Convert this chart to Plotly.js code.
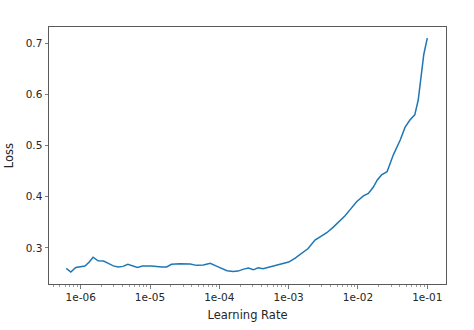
<!DOCTYPE html>
<html>
<head>
<meta charset="utf-8">
<script src="https://cdn.plot.ly/plotly-3.0.1.min.js"></script>
<style>html,body{margin:0;padding:0;background:#fff;}#chart{width:474px;height:330px;}</style>
</head>
<body>
<div id="chart"></div>
<script>
const learningRates = [6.2e-7, 7.2e-7, 8.5e-7, 9.8e-7, 1.15e-6, 1.32e-6, 1.51e-6, 1.78e-6, 2.14e-6, 2.51e-6,
  2.95e-6, 3.47e-6, 4.07e-6, 4.79e-6, 5.5e-6, 6.6e-6, 7.8e-6, 1.05e-5, 1.48e-5, 1.74e-5,
  2.04e-5, 2.69e-5, 3.8e-5, 4.68e-5, 5.9e-5, 7.4e-5, 9.1e-5, 1.07e-4, 1.29e-4, 1.58e-4,
  1.86e-4, 2.24e-4, 2.63e-4, 3.09e-4, 3.63e-4, 4.27e-4, 5.4e-4, 6.8e-4, 8.3e-4, 1.0e-3,
  1.23e-3, 1.55e-3, 1.91e-3, 2.4e-3, 2.82e-3, 3.55e-3, 4.37e-3, 5.5e-3, 6.46e-3, 7.76e-3,
  9.55e-3, 1.2e-2, 1.41e-2, 1.66e-2, 1.9e-2, 2.19e-2, 2.63e-2, 3.0e-2, 3.24e-2, 4.07e-2,
  4.79e-2, 5.62e-2, 6.6e-2, 7.4e-2, 8.3e-2, 8.9e-2, 0.1];
const losses = [0.260, 0.253, 0.262, 0.263, 0.2646, 0.272, 0.282, 0.275, 0.2744, 0.2699,
  0.265, 0.263, 0.264, 0.268, 0.266, 0.262, 0.2646, 0.2646, 0.263, 0.263,
  0.268, 0.269, 0.2685, 0.266, 0.2666, 0.270, 0.2646, 0.260, 0.2555, 0.254,
  0.2548, 0.2587, 0.2606, 0.2573, 0.2612, 0.2593, 0.263, 0.2665, 0.2685, 0.2724,
  0.2797, 0.2894, 0.299, 0.3155, 0.322, 0.3297, 0.3403, 0.3532, 0.3624, 0.3754,
  0.3904, 0.4016, 0.4067, 0.4186, 0.4329, 0.4427, 0.4491, 0.470, 0.482, 0.511,
  0.536, 0.550, 0.560, 0.589, 0.642, 0.678, 0.710];
const xTickVals = [1e-6, 1e-5, 1e-4, 1e-3, 1e-2, 1e-1];
const xTickText = ["1e-06", "1e-05", "1e-04", "1e-03", "1e-02", "1e-01"];
const yTickVals = [0.3, 0.4, 0.5, 0.6, 0.7];
const yTickText = ["0.3", "0.4", "0.5", "0.6", "0.7"];

const minorVals = [];
for (let e = -7; e <= 0; e++) {
  for (let m = 2; m <= 9; m++) minorVals.push(m * Math.pow(10, e));
}

const tickFont = {family: "DejaVu Sans", size: 10.5, color: "#262626"};
const titleFont = {family: "DejaVu Sans", size: 11.5, color: "#262626"};
const spine = "#5a5a5a";

Plotly.newPlot("chart", [{
  x: learningRates,
  y: losses,
  type: "scatter",
  mode: "lines",
  line: {color: "#1f77b4", width: 1.5},
  hoverinfo: "skip"
}], {
  width: 474,
  height: 330,
  margin: {l: 49, r: 28, t: 27, b: 46},
  paper_bgcolor: "#fff",
  plot_bgcolor: "#fff",
  showlegend: false,
  font: tickFont,
  xaxis: {
    type: "log",
    range: [-6.457, -0.73],
    tickvals: xTickVals,
    ticktext: xTickText,
    ticks: "outside",
    ticklen: 3.5,
    tickwidth: 0.8,
    tickcolor: spine,
    showgrid: false,
    zeroline: false,
    showline: true,
    linecolor: spine,
    linewidth: 1,
    mirror: true,
    tickfont: tickFont,
    minor: {tickvals: minorVals, ticks: "outside", ticklen: 2, tickwidth: 0.6, tickcolor: spine, showgrid: false},
    title: {text: "Learning Rate", font: titleFont, standoff: 8}
  },
  yaxis: {
    range: [0.2296, 0.7317],
    tickvals: yTickVals,
    ticktext: yTickText,
    ticks: "outside",
    ticklen: 3.5,
    tickwidth: 0.8,
    tickcolor: spine,
    showgrid: false,
    zeroline: false,
    showline: true,
    linecolor: spine,
    linewidth: 1,
    mirror: true,
    tickfont: tickFont,
    title: {text: "Loss", font: titleFont, standoff: 9}
  }
}, {staticPlot: true, displayModeBar: false});
</script>
</body>
</html>
